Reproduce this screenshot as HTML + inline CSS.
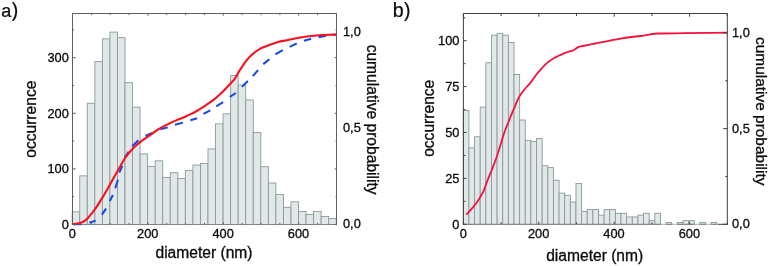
<!DOCTYPE html>
<html><head><meta charset="utf-8"><title>figure</title>
<style>
html,body{margin:0;padding:0;background:#fff;}
body{width:770px;height:266px;overflow:hidden;}
svg{display:block;filter:blur(0.3px);}
text{font-family:"Liberation Sans",Arial,sans-serif;fill:#0a0a0a;stroke:#0a0a0a;stroke-width:0.3px;}
.tk{font-size:12.8px;}
.ax{font-size:15.6px;}
.pl{font-size:20px;stroke-width:0.2px;}
</style></head><body>
<svg width="770" height="266" viewBox="0 0 770 266">
<rect x="0" y="0" width="770" height="266" fill="#fff"/>

<g>
<rect x="72.20" y="211.88" width="7.54" height="12.62" fill="#e1e8e8" stroke="#8b9a9c" stroke-width="0.9"/>
<rect x="79.74" y="175.85" width="7.54" height="48.65" fill="#e1e8e8" stroke="#8b9a9c" stroke-width="0.9"/>
<rect x="87.29" y="103.29" width="7.54" height="121.21" fill="#e1e8e8" stroke="#8b9a9c" stroke-width="0.9"/>
<rect x="94.83" y="61.59" width="7.54" height="162.91" fill="#e1e8e8" stroke="#8b9a9c" stroke-width="0.9"/>
<rect x="102.38" y="38.80" width="7.54" height="185.70" fill="#e1e8e8" stroke="#8b9a9c" stroke-width="0.9"/>
<rect x="109.92" y="32.12" width="7.54" height="192.38" fill="#e1e8e8" stroke="#8b9a9c" stroke-width="0.9"/>
<rect x="117.46" y="37.68" width="7.54" height="186.82" fill="#e1e8e8" stroke="#8b9a9c" stroke-width="0.9"/>
<rect x="125.01" y="82.72" width="7.54" height="141.78" fill="#e1e8e8" stroke="#8b9a9c" stroke-width="0.9"/>
<rect x="132.55" y="107.18" width="7.54" height="117.32" fill="#e1e8e8" stroke="#8b9a9c" stroke-width="0.9"/>
<rect x="140.10" y="153.89" width="7.54" height="70.61" fill="#e1e8e8" stroke="#8b9a9c" stroke-width="0.9"/>
<rect x="147.64" y="166.40" width="7.54" height="58.10" fill="#e1e8e8" stroke="#8b9a9c" stroke-width="0.9"/>
<rect x="155.18" y="160.84" width="7.54" height="63.66" fill="#e1e8e8" stroke="#8b9a9c" stroke-width="0.9"/>
<rect x="162.73" y="177.52" width="7.54" height="46.98" fill="#e1e8e8" stroke="#8b9a9c" stroke-width="0.9"/>
<rect x="170.27" y="172.63" width="7.54" height="51.87" fill="#e1e8e8" stroke="#8b9a9c" stroke-width="0.9"/>
<rect x="177.82" y="178.46" width="7.54" height="46.04" fill="#e1e8e8" stroke="#8b9a9c" stroke-width="0.9"/>
<rect x="185.36" y="170.35" width="7.54" height="54.15" fill="#e1e8e8" stroke="#8b9a9c" stroke-width="0.9"/>
<rect x="192.90" y="165.01" width="7.54" height="59.49" fill="#e1e8e8" stroke="#8b9a9c" stroke-width="0.9"/>
<rect x="200.45" y="163.45" width="7.54" height="61.05" fill="#e1e8e8" stroke="#8b9a9c" stroke-width="0.9"/>
<rect x="207.99" y="148.88" width="7.54" height="75.62" fill="#e1e8e8" stroke="#8b9a9c" stroke-width="0.9"/>
<rect x="215.54" y="123.86" width="7.54" height="100.64" fill="#e1e8e8" stroke="#8b9a9c" stroke-width="0.9"/>
<rect x="223.08" y="113.86" width="7.54" height="110.64" fill="#e1e8e8" stroke="#8b9a9c" stroke-width="0.9"/>
<rect x="230.62" y="75.60" width="7.54" height="148.90" fill="#e1e8e8" stroke="#8b9a9c" stroke-width="0.9"/>
<rect x="238.17" y="85.11" width="7.54" height="139.39" fill="#e1e8e8" stroke="#8b9a9c" stroke-width="0.9"/>
<rect x="245.71" y="99.96" width="7.54" height="124.54" fill="#e1e8e8" stroke="#8b9a9c" stroke-width="0.9"/>
<rect x="253.26" y="132.43" width="7.54" height="92.07" fill="#e1e8e8" stroke="#8b9a9c" stroke-width="0.9"/>
<rect x="260.80" y="166.68" width="7.54" height="57.82" fill="#e1e8e8" stroke="#8b9a9c" stroke-width="0.9"/>
<rect x="268.34" y="183.02" width="7.54" height="41.48" fill="#e1e8e8" stroke="#8b9a9c" stroke-width="0.9"/>
<rect x="275.89" y="194.48" width="7.54" height="30.02" fill="#e1e8e8" stroke="#8b9a9c" stroke-width="0.9"/>
<rect x="283.43" y="207.26" width="7.54" height="17.24" fill="#e1e8e8" stroke="#8b9a9c" stroke-width="0.9"/>
<rect x="290.98" y="201.82" width="7.54" height="22.68" fill="#e1e8e8" stroke="#8b9a9c" stroke-width="0.9"/>
<rect x="298.52" y="211.38" width="7.54" height="13.12" fill="#e1e8e8" stroke="#8b9a9c" stroke-width="0.9"/>
<rect x="306.06" y="214.49" width="7.54" height="10.01" fill="#e1e8e8" stroke="#8b9a9c" stroke-width="0.9"/>
<rect x="313.61" y="211.38" width="7.54" height="13.12" fill="#e1e8e8" stroke="#8b9a9c" stroke-width="0.9"/>
<rect x="321.15" y="216.44" width="7.54" height="8.06" fill="#e1e8e8" stroke="#8b9a9c" stroke-width="0.9"/>
<rect x="328.70" y="218.61" width="7.54" height="5.89" fill="#e1e8e8" stroke="#8b9a9c" stroke-width="0.9"/>
</g>
<path d="M73.8,224.3 L81.3,224.3 M89.5,222.8 L95.6,220.6 M101.9,214.6 L106.1,208.6 M109.8,201.0 L112.9,195.0 M115.3,188.3 L117.9,179.8 M119.3,172.6 L122.3,165.8 M124.8,157.6 L128.6,151.8 M132.3,146.3 L138.3,140.3 M145.5,136.0 L152.0,133.0 M160.3,129.3 L167.8,127.4 M174.9,124.8 L182.9,122.6 M190.4,120.3 L197.1,118.3 M203.5,113.8 L210.3,110.3 M216.3,106.3 L223.1,102.1 M229.8,96.8 L235.9,93.0 M241.9,86.7 L247.9,81.0 M252.8,76.1 L258.1,70.1 M263.3,64.1 L269.4,59.2 M275.4,54.3 L282.7,50.1 M289.7,46.8 L296.8,43.3 M303.9,40.8 L311.1,38.8 M318.6,37.3 L326.1,35.8 M332.9,35.0 L335.9,34.7" fill="none" stroke="#1446e6" stroke-width="2"/>
<path d="M72.8,224.4 C73.0,224.3 72.8,224.3 73.8,224.1 C74.8,223.9 77.4,223.7 79.0,223.3 C80.6,222.9 82.0,222.5 83.5,221.6 C85.0,220.7 86.5,219.4 88.0,217.9 C89.5,216.4 91.0,214.3 92.6,212.3 C94.1,210.3 95.9,207.9 97.3,205.8 C98.7,203.7 99.8,201.8 101.0,199.8 C102.2,197.8 103.1,196.6 104.6,194.0 C106.1,191.4 108.0,188.0 110.0,184.4 C112.0,180.8 115.1,175.4 116.9,172.2 C118.7,169.0 119.8,167.2 121.0,165.0 C122.2,162.8 122.8,161.6 124.3,159.3 C125.8,157.1 128.1,153.8 130.1,151.5 C132.1,149.2 134.1,147.3 136.1,145.5 C138.1,143.7 139.9,142.3 142.1,140.7 C144.3,139.1 146.7,137.6 149.3,135.7 C152.0,133.8 155.0,131.3 158.0,129.5 C161.0,127.7 164.1,126.1 167.1,124.6 C170.1,123.1 173.1,121.7 176.1,120.4 C179.1,119.1 182.3,118.0 185.1,116.8 C187.8,115.6 190.5,114.3 192.6,113.3 C194.7,112.2 195.4,111.8 197.5,110.5 C199.6,109.2 202.5,107.5 205.0,105.8 C207.5,104.1 210.1,102.5 212.6,100.6 C215.1,98.7 217.8,96.3 220.1,94.2 C222.3,92.1 224.1,90.3 226.1,88.2 C228.1,86.1 230.6,83.4 232.1,81.8 C233.6,80.2 233.9,80.1 235.0,78.5 C236.1,76.9 237.2,74.5 238.5,72.3 C239.8,70.1 241.5,67.5 243.0,65.3 C244.5,63.1 246.1,61.0 247.6,59.2 C249.1,57.4 250.6,56.0 252.1,54.6 C253.6,53.2 254.9,52.2 256.6,51.0 C258.4,49.8 260.4,48.5 262.6,47.5 C264.9,46.5 267.5,45.7 270.1,44.8 C272.7,43.9 275.2,42.8 278.0,42.0 C280.8,41.2 284.0,40.9 287.0,40.3 C290.0,39.7 293.0,38.9 296.0,38.3 C299.0,37.7 302.1,37.2 305.1,36.8 C308.1,36.4 311.1,36.1 314.1,35.8 C317.1,35.5 320.1,35.2 323.1,35.0 C326.1,34.8 330.0,34.7 332.1,34.6 C334.2,34.5 335.4,34.6 336.0,34.6" fill="none" stroke="#fa0f1e" stroke-width="2.1" stroke-linejoin="round"/>
<path d="M72.5,224.5 H336.5" fill="none" stroke="#586063" stroke-width="1" opacity="0.4"/>
<path d="M72.5,224.5 V13.5 H336.5 V224.5" fill="none" stroke="#586063" stroke-width="1" stroke-linecap="square"/>
<path d="M72.50,224.50 v-2.20 M72.50,13.50 v2.20 M91.35,224.50 v-1.60 M91.35,13.50 v1.60 M110.20,224.50 v-1.60 M110.20,13.50 v1.60 M129.05,224.50 v-1.60 M129.05,13.50 v1.60 M147.90,224.50 v-2.20 M147.90,13.50 v2.20 M166.75,224.50 v-1.60 M166.75,13.50 v1.60 M185.60,224.50 v-1.60 M185.60,13.50 v1.60 M204.45,224.50 v-1.60 M204.45,13.50 v1.60 M223.30,224.50 v-2.20 M223.30,13.50 v2.20 M242.15,224.50 v-1.60 M242.15,13.50 v1.60 M261.00,224.50 v-1.60 M261.00,13.50 v1.60 M279.85,224.50 v-1.60 M279.85,13.50 v1.60 M298.70,224.50 v-2.20 M298.70,13.50 v2.20 M317.55,224.50 v-1.60 M317.55,13.50 v1.60 M336.40,224.50 v-1.60 M336.40,13.50 v1.60 M72.50,224.50 h3.20 M336.50,224.50 h-1.92 M72.50,196.70 h1.60 M336.50,196.70 h-0.96 M72.50,168.90 h3.20 M336.50,168.90 h-1.92 M72.50,141.10 h1.60 M336.50,141.10 h-0.96 M72.50,113.30 h3.20 M336.50,113.30 h-1.92 M72.50,85.50 h1.60 M336.50,85.50 h-0.96 M72.50,57.70 h3.20 M336.50,57.70 h-1.92 M72.50,29.90 h1.60 M336.50,29.90 h-0.96" fill="none" stroke="#586063" stroke-width="1"/>
<text class="tk" x="68.8" y="228.9" text-anchor="end">0</text>
<text class="tk" x="68.8" y="173.3" text-anchor="end">100</text>
<text class="tk" x="68.8" y="117.7" text-anchor="end">200</text>
<text class="tk" x="68.8" y="62.1" text-anchor="end">300</text>
<text class="tk" x="72.3" y="237.8" text-anchor="middle">0</text>
<text class="tk" x="147.7" y="237.8" text-anchor="middle">200</text>
<text class="tk" x="223.1" y="237.8" text-anchor="middle">400</text>
<text class="tk" x="298.5" y="237.8" text-anchor="middle">600</text>
<text class="tk" x="343" y="228.1">0,0</text>
<text class="tk" x="343" y="132.1">0,5</text>
<text class="tk" x="343" y="36.1">1,0</text>
<text class="ax" transform="translate(36,119.2) rotate(-90)" text-anchor="middle">occurrence</text>
<text class="ax" transform="translate(367.3,119.6) rotate(90)" text-anchor="middle">cumulative probability</text>
<text class="ax" x="204" y="257.5" text-anchor="middle">diameter (nm)</text>
<text class="pl" x="1.2" y="16.6"><tspan font-size="18">a</tspan><tspan font-size="19.5" dx="0.6">)</tspan></text>
<g>
<rect x="463.30" y="110.47" width="5.63" height="113.83" fill="#e1e8e8" stroke="#8b9a9c" stroke-width="0.9"/>
<rect x="468.93" y="147.92" width="5.63" height="76.38" fill="#e1e8e8" stroke="#8b9a9c" stroke-width="0.9"/>
<rect x="474.57" y="136.72" width="5.63" height="87.58" fill="#e1e8e8" stroke="#8b9a9c" stroke-width="0.9"/>
<rect x="480.20" y="107.16" width="5.63" height="117.14" fill="#e1e8e8" stroke="#8b9a9c" stroke-width="0.9"/>
<rect x="485.83" y="62.73" width="5.63" height="161.57" fill="#e1e8e8" stroke="#8b9a9c" stroke-width="0.9"/>
<rect x="491.47" y="35.19" width="5.63" height="189.11" fill="#e1e8e8" stroke="#8b9a9c" stroke-width="0.9"/>
<rect x="497.10" y="33.36" width="5.63" height="190.94" fill="#e1e8e8" stroke="#8b9a9c" stroke-width="0.9"/>
<rect x="502.73" y="35.19" width="5.63" height="189.11" fill="#e1e8e8" stroke="#8b9a9c" stroke-width="0.9"/>
<rect x="508.36" y="42.54" width="5.63" height="181.76" fill="#e1e8e8" stroke="#8b9a9c" stroke-width="0.9"/>
<rect x="514.00" y="74.48" width="5.63" height="149.82" fill="#e1e8e8" stroke="#8b9a9c" stroke-width="0.9"/>
<rect x="519.63" y="120.02" width="5.63" height="104.28" fill="#e1e8e8" stroke="#8b9a9c" stroke-width="0.9"/>
<rect x="525.26" y="140.39" width="5.63" height="83.91" fill="#e1e8e8" stroke="#8b9a9c" stroke-width="0.9"/>
<rect x="530.90" y="141.50" width="5.63" height="82.80" fill="#e1e8e8" stroke="#8b9a9c" stroke-width="0.9"/>
<rect x="536.53" y="138.56" width="5.63" height="85.74" fill="#e1e8e8" stroke="#8b9a9c" stroke-width="0.9"/>
<rect x="542.16" y="165.73" width="5.63" height="58.57" fill="#e1e8e8" stroke="#8b9a9c" stroke-width="0.9"/>
<rect x="547.80" y="167.57" width="5.63" height="56.73" fill="#e1e8e8" stroke="#8b9a9c" stroke-width="0.9"/>
<rect x="553.43" y="180.24" width="5.63" height="44.06" fill="#e1e8e8" stroke="#8b9a9c" stroke-width="0.9"/>
<rect x="559.06" y="193.09" width="5.63" height="31.21" fill="#e1e8e8" stroke="#8b9a9c" stroke-width="0.9"/>
<rect x="564.69" y="195.29" width="5.63" height="29.01" fill="#e1e8e8" stroke="#8b9a9c" stroke-width="0.9"/>
<rect x="570.33" y="202.08" width="5.63" height="22.22" fill="#e1e8e8" stroke="#8b9a9c" stroke-width="0.9"/>
<rect x="575.96" y="183.54" width="5.63" height="40.76" fill="#e1e8e8" stroke="#8b9a9c" stroke-width="0.9"/>
<rect x="581.59" y="211.45" width="5.63" height="12.85" fill="#e1e8e8" stroke="#8b9a9c" stroke-width="0.9"/>
<rect x="587.23" y="209.61" width="5.63" height="14.69" fill="#e1e8e8" stroke="#8b9a9c" stroke-width="0.9"/>
<rect x="592.86" y="209.61" width="5.63" height="14.69" fill="#e1e8e8" stroke="#8b9a9c" stroke-width="0.9"/>
<rect x="598.49" y="215.12" width="5.63" height="9.18" fill="#e1e8e8" stroke="#8b9a9c" stroke-width="0.9"/>
<rect x="604.12" y="209.61" width="5.63" height="14.69" fill="#e1e8e8" stroke="#8b9a9c" stroke-width="0.9"/>
<rect x="609.76" y="209.61" width="5.63" height="14.69" fill="#e1e8e8" stroke="#8b9a9c" stroke-width="0.9"/>
<rect x="615.39" y="213.28" width="5.63" height="11.02" fill="#e1e8e8" stroke="#8b9a9c" stroke-width="0.9"/>
<rect x="621.02" y="213.28" width="5.63" height="11.02" fill="#e1e8e8" stroke="#8b9a9c" stroke-width="0.9"/>
<rect x="626.66" y="216.96" width="5.63" height="7.34" fill="#e1e8e8" stroke="#8b9a9c" stroke-width="0.9"/>
<rect x="632.29" y="216.96" width="5.63" height="7.34" fill="#e1e8e8" stroke="#8b9a9c" stroke-width="0.9"/>
<rect x="637.92" y="215.12" width="5.63" height="9.18" fill="#e1e8e8" stroke="#8b9a9c" stroke-width="0.9"/>
<rect x="643.56" y="213.28" width="5.63" height="11.02" fill="#e1e8e8" stroke="#8b9a9c" stroke-width="0.9"/>
<rect x="649.19" y="220.63" width="5.63" height="3.67" fill="#e1e8e8" stroke="#8b9a9c" stroke-width="0.9"/>
<rect x="654.82" y="213.28" width="5.63" height="11.02" fill="#e1e8e8" stroke="#8b9a9c" stroke-width="0.9"/>
<rect x="666.09" y="222.46" width="5.63" height="1.84" fill="#e1e8e8" stroke="#8b9a9c" stroke-width="0.9"/>
<rect x="677.35" y="222.46" width="5.63" height="1.84" fill="#e1e8e8" stroke="#8b9a9c" stroke-width="0.9"/>
<rect x="682.99" y="220.63" width="5.63" height="3.67" fill="#e1e8e8" stroke="#8b9a9c" stroke-width="0.9"/>
<rect x="688.62" y="220.63" width="5.63" height="3.67" fill="#e1e8e8" stroke="#8b9a9c" stroke-width="0.9"/>
<rect x="699.89" y="222.46" width="5.63" height="1.84" fill="#e1e8e8" stroke="#8b9a9c" stroke-width="0.9"/>
<rect x="711.15" y="222.46" width="5.63" height="1.84" fill="#e1e8e8" stroke="#8b9a9c" stroke-width="0.9"/>
</g>
<path d="M466.3,214.6 C467.0,213.8 469.1,211.7 470.5,210.1 C471.9,208.5 473.6,206.6 475.0,204.8 C476.4,203.0 477.7,201.2 478.8,199.5 C479.9,197.8 480.9,195.9 481.8,194.3 C482.7,192.7 483.5,191.2 484.1,189.8 C484.7,188.4 484.8,187.8 485.4,186.0 C486.0,184.2 487.1,181.5 488.0,179.1 C488.9,176.7 490.1,174.1 491.1,171.6 C492.1,169.1 493.1,166.6 494.1,164.0 C495.1,161.4 496.1,158.7 497.1,155.8 C498.1,152.9 499.0,149.6 500.0,146.4 C501.0,143.2 502.0,139.7 503.0,136.6 C504.0,133.5 505.1,130.5 506.1,127.8 C507.1,125.1 508.1,122.8 509.1,120.3 C510.1,117.8 511.2,114.9 512.1,112.8 C513.0,110.7 513.8,109.2 514.5,107.5 C515.2,105.8 515.4,104.8 516.3,102.8 C517.2,100.8 518.6,97.8 520.0,95.6 C521.4,93.4 523.0,91.4 524.5,89.5 C526.0,87.6 527.6,86.0 529.1,84.3 C530.6,82.5 531.9,80.8 533.2,79.0 C534.5,77.2 535.7,75.4 537.0,73.8 C538.3,72.2 539.5,70.8 540.8,69.3 C542.1,67.8 543.5,66.2 545.0,64.8 C546.5,63.4 548.0,62.2 549.5,61.1 C551.0,60.0 552.6,58.9 554.1,58.0 C555.6,57.1 557.1,56.5 558.6,55.8 C560.1,55.1 561.6,54.4 563.1,53.8 C564.6,53.2 566.0,52.5 567.6,52.0 C569.2,51.5 571.6,51.0 572.9,50.5 C574.1,50.0 574.2,49.9 575.1,49.3 C576.0,48.7 576.9,47.6 578.1,47.1 C579.4,46.6 580.6,46.4 582.6,46.0 C584.6,45.6 587.9,45.0 590.0,44.6 C592.1,44.2 592.8,44.0 595.1,43.5 C597.5,43.0 601.1,42.4 604.1,41.8 C607.1,41.2 610.2,40.5 613.2,39.9 C616.2,39.3 619.2,38.8 622.2,38.3 C625.2,37.8 628.2,37.4 631.2,37.0 C634.2,36.6 637.2,36.4 640.2,36.0 C643.2,35.6 646.0,35.0 649.0,34.6 C652.0,34.2 652.0,33.7 658.0,33.5 C664.0,33.3 676.7,33.3 685.0,33.2 C693.3,33.1 700.7,33.0 707.7,32.9 C714.7,32.8 724.0,32.7 727.2,32.7" fill="none" stroke="#f8103c" stroke-width="1.8" stroke-linejoin="round"/>
<path d="M463.4,224.3 H718.0" fill="none" stroke="#3a3f40" stroke-width="1" opacity="0.4"/>
<path d="M718.0,224.3 H727.3" fill="none" stroke="#3a3f40" stroke-width="1"/>
<path d="M463.4,224.3 V13.5 H727.3 V224.3" fill="none" stroke="#3a3f40" stroke-width="1" stroke-linecap="square"/>
<path d="M463.40,224.30 v-2.60 M463.40,13.50 v3.20 M501.10,224.30 v-2.00 M501.10,13.50 v2.60 M538.80,224.30 v-2.60 M538.80,13.50 v3.20 M576.50,224.30 v-2.00 M576.50,13.50 v2.60 M614.20,224.30 v-2.60 M614.20,13.50 v3.20 M651.90,224.30 v-2.00 M651.90,13.50 v2.60 M689.60,224.30 v-2.60 M689.60,13.50 v3.20 M727.30,224.30 v-2.00 M727.30,13.50 v2.60 M463.40,224.30 h3.20 M463.40,201.35 h2.00 M463.40,178.40 h3.20 M463.40,155.45 h2.00 M463.40,132.50 h3.20 M463.40,109.55 h2.00 M463.40,86.60 h3.20 M463.40,63.65 h2.00 M463.40,40.70 h3.20 M463.40,17.75 h2.00 M727.30,224.30 h-4.20 M727.30,176.45 h-2.00 M727.30,128.60 h-4.20 M727.30,80.75 h-2.00 M727.30,32.90 h-4.20" fill="none" stroke="#3a3f40" stroke-width="1"/>
<text class="tk" x="459.4" y="228.7" text-anchor="end">0</text>
<text class="tk" x="459.4" y="182.8" text-anchor="end">25</text>
<text class="tk" x="459.4" y="136.9" text-anchor="end">50</text>
<text class="tk" x="459.4" y="91.0" text-anchor="end">75</text>
<text class="tk" x="459.4" y="45.1" text-anchor="end">100</text>
<text class="tk" x="463.2" y="237.8" text-anchor="middle">0</text>
<text class="tk" x="538.6" y="237.8" text-anchor="middle">200</text>
<text class="tk" x="614.0" y="237.8" text-anchor="middle">400</text>
<text class="tk" x="689.4" y="237.8" text-anchor="middle">600</text>
<text class="tk" x="732" y="228.2">0,0</text>
<text class="tk" x="732" y="132.5">0,5</text>
<text class="tk" x="732" y="36.8">1,0</text>
<text class="ax" transform="translate(433.6,118.3) rotate(-90)" text-anchor="middle">occurrence</text>
<text class="ax" style="font-size:15.45px" transform="translate(756.4,111.2) rotate(90)" text-anchor="middle">cumulative probability</text>
<text class="ax" x="594.7" y="260.6" text-anchor="middle">diameter (nm)</text>
<text class="pl" x="392.8" y="16.6"><tspan font-size="19.6">b</tspan><tspan font-size="19.5" dx="0.4">)</tspan></text>
</svg></body></html>
